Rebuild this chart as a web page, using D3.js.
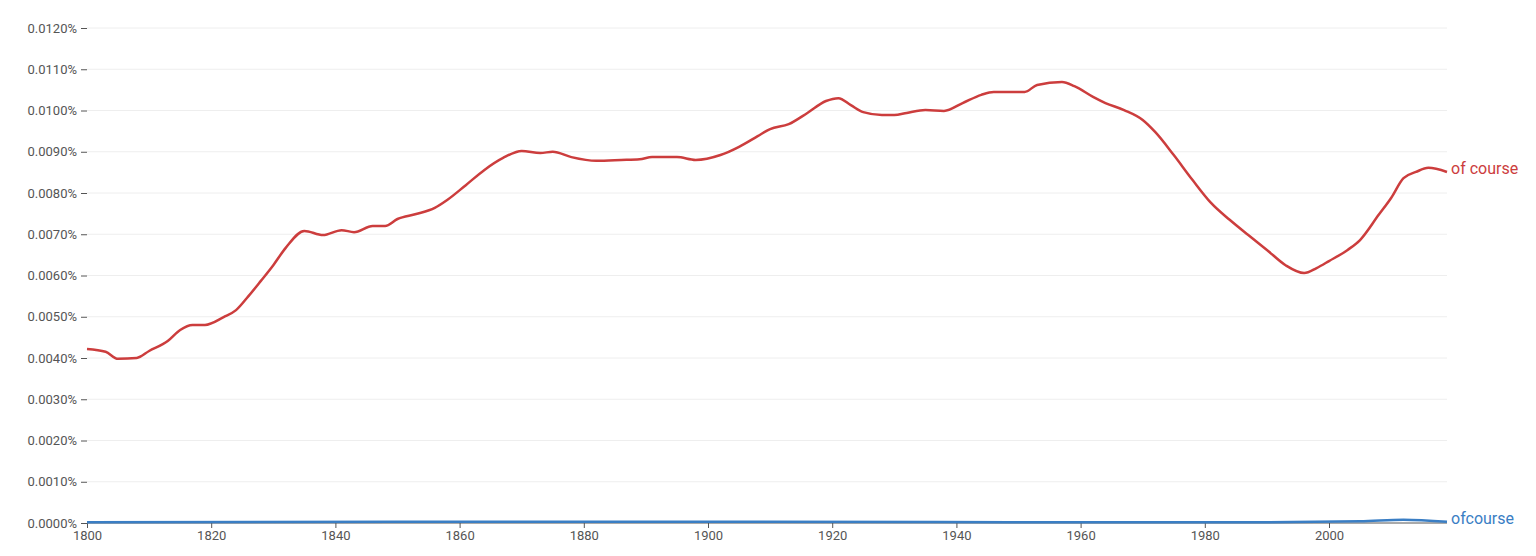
<!DOCTYPE html>
<html><head><meta charset="utf-8">
<script src="https://cdn.jsdelivr.net/npm/d3@7"></script>
<style>body{margin:0;background:#fff;font-family:Roboto,sans-serif}</style>
</head><body><svg id="chart" width="1536" height="556"></svg>
<script>
// of course, percent values (x 0.001%)
var years = [1800,1803,1805,1808,1810,1813,1815,1817,1819,1822,1824,1826,1828,1830,1832,1835,1838,1841,1843,1846,1848,1850,1853,1856,1858,1861,1864,1867,1870,1873,1875,1878,1882,1886,1889,1891,1895,1898,1902,1905,1908,1910,1913,1916,1919,1921,1923,1925,1928,1930,1932,1935,1938,1941,1944,1946,1949,1951,1953,1957,1959,1962,1964,1967,1970,1972,1975,1978,1981,1984,1987,1990,1993,1996,1998,2000,2003,2005,2008,2010,2012,2014,2016,2019];
var ofCourse = [4.22,4.15,3.98,4.0,4.17,4.41,4.68,4.80,4.80,4.99,5.16,5.50,5.87,6.25,6.67,7.08,6.98,7.10,7.05,7.20,7.20,7.37,7.49,7.64,7.83,8.19,8.56,8.85,9.02,8.97,9.0,8.87,8.78,8.80,8.82,8.87,8.87,8.80,8.92,9.12,9.38,9.55,9.67,9.94,10.23,10.30,10.13,9.96,9.89,9.89,9.94,10.01,9.99,10.18,10.38,10.45,10.45,10.45,10.62,10.69,10.59,10.33,10.18,10.01,9.77,9.48,8.92,8.32,7.76,7.35,6.98,6.62,6.25,6.06,6.18,6.35,6.62,6.86,7.47,7.88,8.36,8.51,8.61,8.51];
var ofcourseYears = [1800,1850,1900,1950,1990,2005,2012,2019];
var ofcourse = [0.02,0.03,0.03,0.02,0.02,0.04,0.08,0.03];
var yTicks = d3.range(0, 13, 1);
var xTicks = d3.range(1800, 2001, 20);

var svg = d3.select("#chart");
var x = d3.scaleLinear().domain([1800, 2019]).range([87, 1447]);
var y = d3.scaleLinear().domain([0, 12]).range([523, 28]);

svg.append("g").selectAll("line").data(yTicks.slice(1)).enter().append("line")
	.attr("x1", 87).attr("x2", 1447)
	.attr("y1", function(d) {return y(d);}).attr("y2", function(d) {return y(d);})
	.attr("stroke", "#eeeeee");

var ya = svg.append("g").attr("transform", "translate(87,0)")
	.call(d3.axisLeft(y).tickValues(yTicks).tickSize(6).tickPadding(4)
		.tickFormat(function(d) {return (d / 1000).toFixed(4) + "%";}));
ya.select(".domain").remove();
ya.selectAll("line").attr("stroke", "#555");
ya.selectAll("text").attr("fill", "#555").style("font-size", "13px").style("font-family", "Roboto");

var xa = svg.append("g").attr("transform", "translate(0,523)")
	.call(d3.axisBottom(x).tickValues(xTicks).tickSize(5).tickFormat(d3.format("d")));
xa.select(".domain").attr("stroke", "#555").attr("d", "M87,0H1447");
xa.selectAll("line").attr("stroke", "#555");
xa.selectAll("text").attr("fill", "#555").style("font-size", "13px").style("font-family", "Roboto");

var line = d3.line().curve(d3.curveMonotoneX);
function pts(xs, vs) {return xs.map(function(d, i) {return [x(d), y(vs[i])];});}

svg.append("path").attr("d", line(pts(years, ofCourse)))
	.attr("fill", "none").attr("stroke", "#cc3d3d").attr("stroke-width", 2.5);
svg.append("path").attr("d", line(pts(ofcourseYears, ofcourse)))
	.attr("fill", "none").attr("stroke", "#3a7ec4").attr("stroke-width", 2.5);

svg.append("text").attr("x", 1451).attr("y", y(ofCourse[ofCourse.length - 1]) + 2)
	.attr("fill", "#cc3d3d").style("font-size", "16px").text("of course");
svg.append("text").attr("x", 1451).attr("y", y(ofcourse[ofcourse.length - 1]) + 2)
	.attr("fill", "#3a7ec4").style("font-size", "16px").text("ofcourse");
</script></body></html>
